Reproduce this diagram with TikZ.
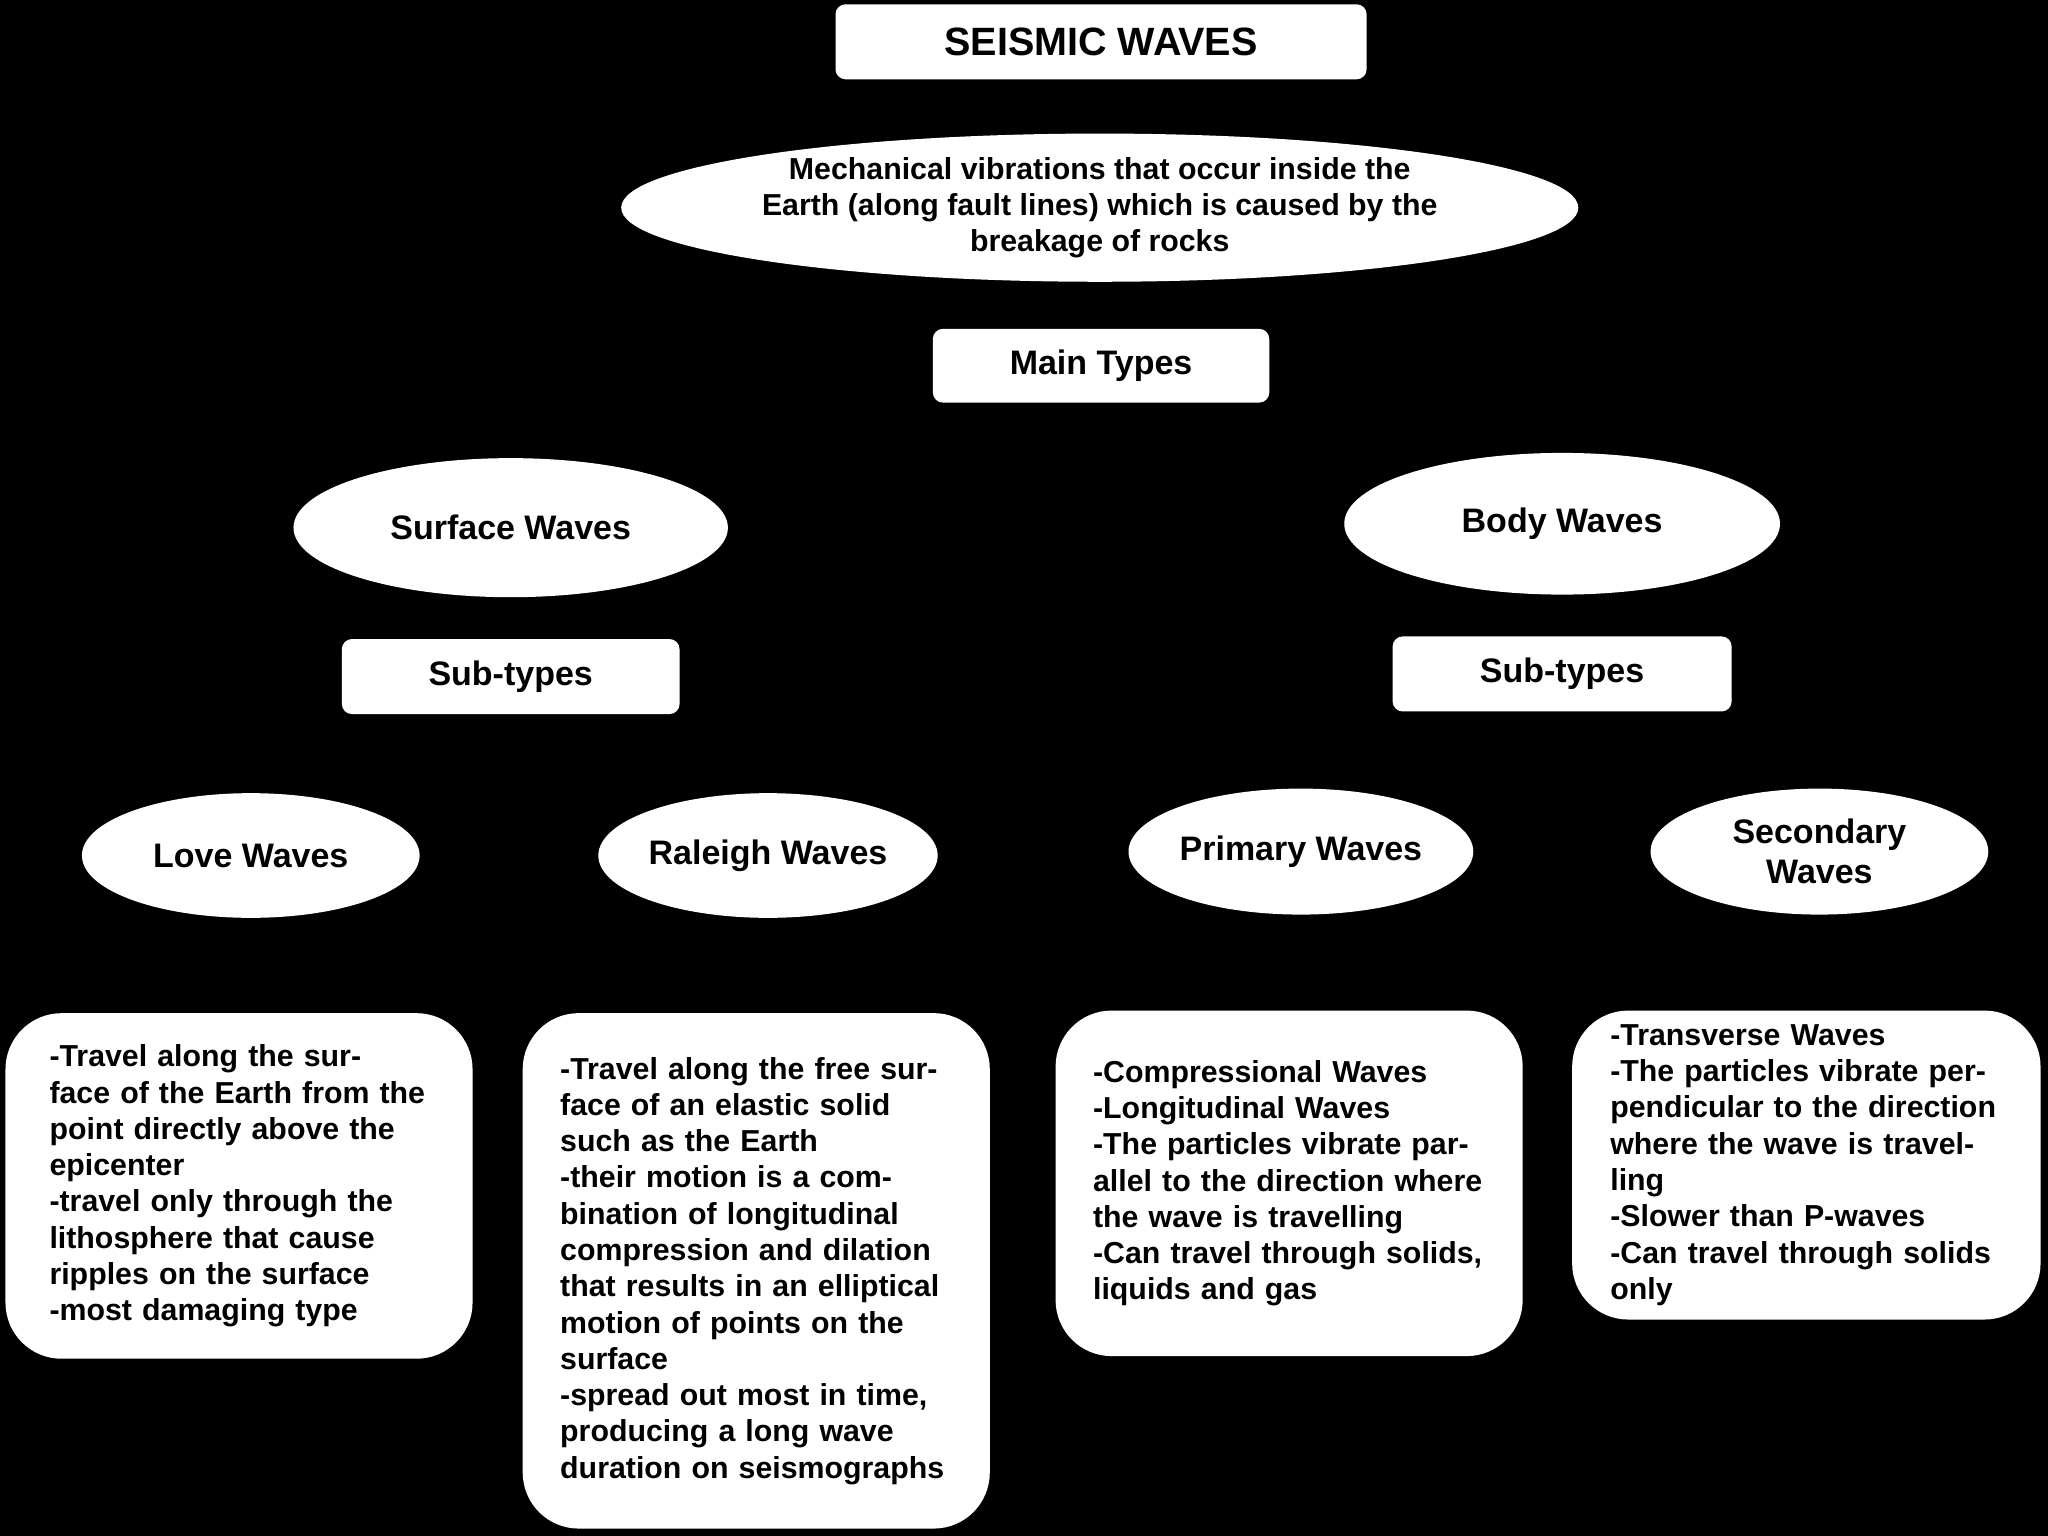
\documentclass[tikz,border=0pt]{standalone}
\usepackage{fontspec}
\setmainfont{Liberation Sans}
\usetikzlibrary{shapes.geometric}
\begin{document}
\begin{tikzpicture}[x=0.01cm,y=-0.01cm,
  base/.style={fill=white,draw=white,text=black,font=\fontsize{6.6pt}{7.9pt}\selectfont\bfseries,align=center,inner sep=0pt},
  rbox/.style={base,rectangle,rounded corners=2pt},
  ell/.style={base,ellipse},
  tbox/.style={base,rectangle,rounded corners=12pt,align=left}]
\fill[black] (0,0) rectangle (1568,1176);
\useasboundingbox (0,0) rectangle (1568,1176);
\node[rbox,minimum width=4.05cm,minimum height=0.56cm,font=\fontsize{8.6pt}{10pt}\selectfont\bfseries] (title) at (843,32) {SEISMIC WAVES};
\node[ell,minimum width=6.68cm,minimum height=1.12cm] (def) at (842,159) {Mechanical vibrations that occur inside the\\Earth (along fault lines) which is caused by the\\breakage of rocks};
\node[rbox,minimum width=2.56cm,minimum height=0.55cm,font=\fontsize{7.4pt}{9pt}\selectfont\bfseries] (main) at (843,280) {Main Types};
\node[ell,minimum width=3.31cm,minimum height=1.05cm,font=\fontsize{7.4pt}{9pt}\selectfont\bfseries] (surf) at (391,404) {Surface Waves};
\node[ell,minimum width=3.32cm,minimum height=1.07cm,font=\fontsize{7.4pt}{9pt}\selectfont\bfseries] (body) at (1196,401) {Body Waves};
\node[rbox,minimum width=2.57cm,minimum height=0.56cm,font=\fontsize{7.4pt}{9pt}\selectfont\bfseries] (sub1) at (391,518) {Sub-types};
\node[rbox,minimum width=2.58cm,minimum height=0.56cm,font=\fontsize{7.4pt}{9pt}\selectfont\bfseries] (sub2) at (1196,516) {Sub-types};
\node[ell,minimum width=2.57cm,minimum height=0.94cm,font=\fontsize{7.4pt}{9pt}\selectfont\bfseries] (love) at (192,655) {Love Waves};
\node[ell,minimum width=2.58cm,minimum height=0.94cm,font=\fontsize{7.4pt}{9pt}\selectfont\bfseries] (ral) at (588,655) {Raleigh Waves};
\node[ell,minimum width=2.58cm,minimum height=0.95cm,font=\fontsize{7.4pt}{9pt}\selectfont\bfseries] (prim) at (996,652) {Primary Waves};
\node[ell,minimum width=2.57cm,minimum height=0.95cm,font=\fontsize{7.4pt}{8.8pt}\selectfont\bfseries] (sec) at (1393,652) {Secondary\\Waves};
\node[tbox,minimum width=3.56cm,minimum height=2.63cm,text width=2.9cm,inner xsep=0.3cm] (lovet) at (183,908) {-Travel along the surface of the Earth from the point directly above the epicenter\\-travel only through the lithosphere that cause ripples on the surface\\-most damaging type};
\node[tbox,minimum width=3.56cm,minimum height=3.93cm,text width=3.0cm,inner xsep=0.28cm] (ralt) at (579,973) {-Travel along the free surface of an elastic solid such as the Earth\\-their motion is a combination of longitudinal compression and dilation that results in an elliptical motion of points on the surface\\-spread out most in time, producing a long wave duration on seismographs};
\node[tbox,minimum width=3.56cm,minimum height=2.63cm,text width=3.0cm,inner xsep=0.28cm] (primt) at (987,906) {-Compressional Waves\\-Longitudinal Waves\\-The particles vibrate parallel to the direction where the wave is travelling\\-Can travel through solids, liquids and gas};
\node[tbox,minimum width=3.57cm,minimum height=2.35cm,text width=3.0cm,inner xsep=0.28cm] (sect) at (1383,892) {-Transverse Waves\\-The particles vibrate perpendicular to the direction where the wave is travelling\\-Slower than P-waves\\-Can travel through solids only};
\end{tikzpicture}
\end{document}
